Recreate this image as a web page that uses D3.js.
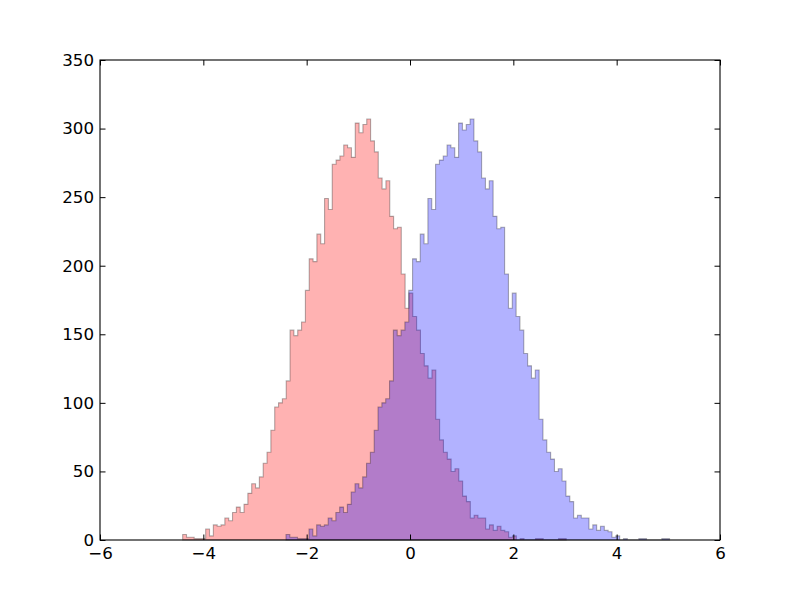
<!DOCTYPE html>
<html>
<head>
<meta charset="utf-8">
<script src="https://cdn.jsdelivr.net/npm/d3@7"></script>
<style>
  html, body { margin: 0; padding: 0; background: #fff; }
  svg { display: block; }
  text { font-family: "DejaVu Sans", sans-serif; font-size: 16.67px; fill: #000; }
</style>
</head>
<body>
<svg id="chart" width="800" height="600"></svg>
<script>
// ---- data ----
const binCount = 100;
const redRange = [-4.40, 3.023];
const blueRange = [-2.40, 5.023];
const redCounts = [
  4, 2, 2, 1, 1, 1, 8, 3, 11, 10,
  11, 16, 14, 20, 24, 20, 26, 34, 41, 38,
  46, 56, 64, 80, 97, 100, 103, 116, 153, 149,
  153, 159, 182, 205, 203, 223, 216, 249, 241, 274,
  277, 280, 288, 286, 279, 304, 297, 303, 307, 291,
  283, 264, 256, 262, 236, 227, 228, 194, 169, 180,
  163, 153, 136, 127, 118, 124, 88, 73, 64, 59,
  50, 52, 43, 32, 28, 16, 18, 16, 16, 8,
  11, 7, 10, 7, 6, 2, 3, 0, 1, 0,
  0, 0, 1, 1, 0, 0, 0, 0, 1, 1
];
const blueCounts = [
  4, 2, 2, 1, 1, 1, 8, 3, 11, 10,
  11, 16, 14, 20, 24, 20, 26, 35, 41, 38,
  46, 56, 64, 80, 97, 100, 103, 116, 153, 149,
  153, 159, 182, 205, 203, 223, 216, 249, 241, 274,
  277, 280, 288, 286, 279, 304, 299, 303, 307, 291,
  283, 264, 256, 262, 236, 227, 228, 194, 169, 180,
  163, 153, 136, 127, 118, 124, 88, 73, 64, 59,
  50, 52, 43, 32, 28, 16, 18, 16, 16, 8,
  11, 7, 10, 7, 6, 2, 3, 0, 1, 0,
  0, 0, 1, 1, 0, 0, 0, 0, 1, 1
];
const xTicks = [-6, -4, -2, 0, 2, 4, 6];
const yTicks = [0, 50, 100, 150, 200, 250, 300, 350];
const xDomain = [-6, 6];
const yDomain = [0, 350];

// ---- layout ----
const svg = d3.select("#chart");
const margin = { left: 100, right: 80, top: 60, bottom: 60 };
const W = 800, H = 600;
const x = d3.scaleLinear().domain(xDomain).range([margin.left, W - margin.right]);
const y = d3.scaleLinear().domain(yDomain).range([H - margin.bottom, margin.top]);

function histPoints(range, counts) {
  const n = counts.length;
  const edges = d3.range(n + 1).map(i => range[0] + (range[1] - range[0]) * i / n);
  const pts = [[edges[0], 0]];
  counts.forEach((c, i) => pts.push([edges[i], c]));
  pts.push([edges[n], counts[n - 1]]);
  pts.push([edges[n], 0]);
  return pts;
}

const line = d3.line()
  .x(d => x(d[0]))
  .y(d => y(d[1]))
  .curve(d3.curveStepAfter);

const plot = svg.append("g");
const series = [
  { range: redRange, counts: redCounts, color: "#ff0000" },
  { range: blueRange, counts: blueCounts, color: "#0000ff" }
];
series.forEach(s => {
  plot.append("path")
    .attr("d", line(histPoints(s.range, s.counts)) + "Z")
    .attr("fill", s.color)
    .attr("fill-opacity", 0.3)
    .attr("stroke", "#000")
    .attr("stroke-opacity", 0.3)
    .attr("stroke-width", 1.1)
    .attr("stroke-linejoin", "miter");
});

// ---- axes (ticks inside, on all four sides) ----
const tickLen = 5.5;
const axes = svg.append("g");

const axBottom = d3.axisBottom(x).tickValues(xTicks).tickSizeInner(-tickLen).tickSizeOuter(0)
  .tickPadding(7.5).tickFormat(d => d3.format("")(d).replace("-", "\u2212"));
const axTop = d3.axisTop(x).tickValues(xTicks).tickSizeInner(-tickLen).tickSizeOuter(0).tickFormat("");
const axLeft = d3.axisLeft(y).tickValues(yTicks).tickSizeInner(-tickLen).tickSizeOuter(0)
  .tickPadding(6).tickFormat(d3.format(""));
const axRight = d3.axisRight(y).tickValues(yTicks).tickSizeInner(-tickLen).tickSizeOuter(0).tickFormat("");

function style(g) {
  g.select(".domain").remove();
  g.selectAll(".tick line").attr("stroke", "#000").attr("stroke-width", 1);
  g.selectAll(".tick text").attr("font-family", "DejaVu Sans, sans-serif").attr("font-size", "16.67px").attr("fill", "#000");
}

axes.append("g").attr("transform", `translate(0,${H - margin.bottom})`).call(axBottom).call(style);
axes.append("g").attr("transform", `translate(0,${margin.top})`).call(axTop).call(style);
axes.append("g").attr("transform", `translate(${margin.left},0)`).call(axLeft).call(style);
axes.append("g").attr("transform", `translate(${W - margin.right},0)`).call(axRight).call(style);

// frame
svg.append("rect")
  .attr("x", margin.left).attr("y", margin.top)
  .attr("width", W - margin.left - margin.right)
  .attr("height", H - margin.top - margin.bottom)
  .attr("fill", "none").attr("stroke", "#000").attr("stroke-width", 1.1);
</script>
</body>
</html>
